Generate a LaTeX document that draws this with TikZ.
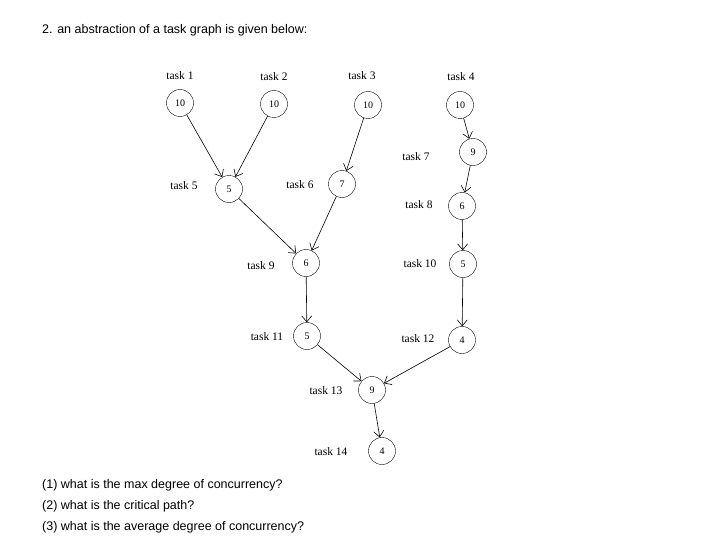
\documentclass[tikz,border=0pt]{standalone}
\usepackage{fontspec}
\setmainfont{Liberation Serif}
\newfontfamily\arialf{Liberation Sans}
\usetikzlibrary{arrows.meta}
\begin{document}
\begin{tikzpicture}[x=1pt,y=-1pt,
  tnode/.style={draw,circle,minimum size=27pt,inner sep=0pt,font=\fontsize{10}{12}\selectfont},
  tlab/.style={font=\fontsize{11.5}{13}\selectfont},
  qtext/.style={anchor=west,font=\arialf\fontsize{12.5}{14}\selectfont,inner sep=0pt},
  edge/.style={-{Straight Barb[length=6pt,width=10pt]},line width=0.6pt}]
\useasboundingbox (0,0) rectangle (705,551);
\node[qtext] (title) at (42,30) {2. an abstraction of a task graph is given below:};
\node[tnode] (n1) at (180,103) {10}; \node[tlab] (l1) at (180,76) {task 1};
\node[tnode] (n2) at (274,104) {10}; \node[tlab] (l2) at (274,77) {task 2};
\node[tnode] (n3) at (368,105) {10}; \node[tlab] (l3) at (362,76) {task 3};
\node[tnode] (n4) at (460,105) {10}; \node[tlab] (l4) at (461,77) {task 4};
\node[tnode] (n7) at (473,152) {9}; \node[tlab] (l7) at (416,157) {task 7};
\node[tnode] (n5) at (229,189) {5}; \node[tlab] (l5) at (184,186) {task 5};
\node[tnode] (n6) at (342,184) {7}; \node[tlab] (l6) at (300,185) {task 6};
\node[tnode] (n8) at (462,206) {6}; \node[tlab] (l8) at (419,205) {task 8};
\node[tnode] (n9) at (306,263) {6}; \node[tlab] (l9) at (261,266) {task 9};
\node[tnode] (n10) at (463,264) {5}; \node[tlab] (l10) at (420,264) {task 10};
\node[tnode] (n11) at (307,336) {5}; \node[tlab] (l11) at (267,337) {task 11};
\node[tnode] (n12) at (462,340) {4}; \node[tlab] (l12) at (418,339) {task 12};
\node[tnode] (n13) at (372,390) {9}; \node[tlab] (l13) at (326,391) {task 13};
\node[tnode] (n14) at (382,451) {4}; \node[tlab] (l14) at (331,452) {task 14};
\foreach \a/\b in {n1/n5,n2/n5,n3/n6,n4/n7,n7/n8,n8/n10,n10/n12,n5/n9,n6/n9,n9/n11,n11/n13,n12/n13,n13/n14}
  \draw[edge] (\a) -- (\b);
\node[qtext] (q1) at (42,485) {(1) what is the max degree of concurrency?};
\node[qtext] (q2) at (42,506) {(2) what is the critical path?};
\node[qtext] (q3) at (42,527) {(3) what is the average degree of concurrency?};
\end{tikzpicture}
\end{document}
